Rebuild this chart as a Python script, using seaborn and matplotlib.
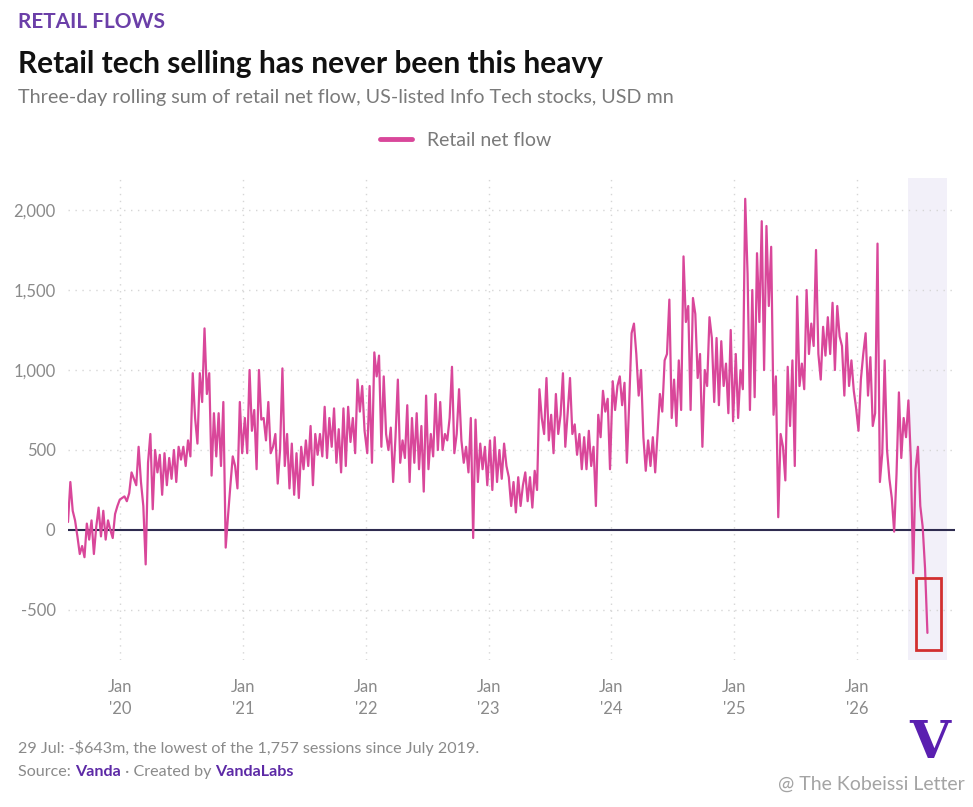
import pandas as pd
import matplotlib.pyplot as plt
import matplotlib.dates as mdates
from matplotlib.patches import Rectangle
from matplotlib.ticker import FuncFormatter
import seaborn as sns

# Weekly readings of the three-day rolling retail net flow (USD mn)
flow_2019 = [50, 300, 120, 60, -40, -150, -100, -170, 40, -60,
             60, -150, 20, 140, -40, 120, -60, 60, 0, -50,
             100, 150, 190]
flow_2020 = [200, 210, 180, 230, 360, 320, 280, 520, 300, 150,
             -215, 420, 600, 130, 500, 360, 470, 220, 480, 280,
             450, 320, 500, 300, 520, 440, 520, 400, 560, 460,
             980, 700, 540, 980, 800, 1260, 850, 980, 340, 730,
             460, 730, 400, 800, -110, 90, 280, 460, 400, 260,
             800, 480]
flow_2021 = [700, 480, 1000, 620, 750, 380, 1000, 690, 700, 560,
             800, 480, 520, 600, 290, 500, 1010, 400, 600, 260,
             540, 220, 480, 200, 520, 380, 560, 400, 650, 280,
             600, 470, 600, 460, 770, 450, 700, 520, 760, 420,
             630, 360, 760, 400, 770, 550, 700, 480, 940, 740,
             900, 620]
flow_2022 = [480, 900, 420, 1110, 960, 1090, 520, 960, 600, 500,
             640, 300, 580, 940, 420, 560, 450, 780, 300, 700,
             420, 730, 380, 650, 240, 840, 380, 600, 460, 850,
             500, 800, 500, 600, 560, 700, 1020, 480, 600, 880,
             560, 420, 520, 360, 700, -50, 690, 300, 540, 380,
             520, 280]
flow_2023 = [560, 250, 580, 300, 500, 320, 540, 400, 330, 150,
             300, 110, 330, 150, 280, 360, 180, 330, 140, 370,
             250, 880, 700, 600, 950, 560, 720, 480, 850, 600,
             720, 980, 520, 730, 950, 600, 660, 470, 600, 380,
             580, 380, 620, 400, 520, 150, 720, 580, 870, 740,
             820, 380]
flow_2024 = [930, 750, 900, 960, 780, 920, 420, 800, 1230, 1290,
             1100, 840, 1000, 580, 370, 560, 400, 580, 360, 600,
             850, 740, 1060, 1100, 1440, 700, 940, 650, 1060, 750,
             1710, 1300, 1400, 750, 1450, 1350, 950, 1100, 520, 1000,
             900, 1330, 1200, 800, 1200, 780, 1180, 900, 1040, 730,
             1250, 680]
flow_2025 = [1100, 700, 1000, 880, 2070, 1600, 750, 1500, 830, 1730,
             1300, 1930, 1000, 1900, 1400, 1770, 720, 960, 80, 600,
             520, 310, 1020, 650, 1060, 400, 1460, 900, 1040, 880,
             1500, 1100, 1290, 1150, 1750, 1100, 940, 1270, 1090, 1330,
             1100, 1420, 1000, 1400, 1210, 1150, 840, 1230, 900, 1060,
             870, 760]
flow_2026 = [620, 940, 1100, 1230, 840, 1080, 650, 730, 1790, 300,
             480, 1060, 500, 320, 200, -10, 350, 860, 450, 700,
             580, 810, 450, -270, 380, 520, 150, 20, -240, -643]

segments = [
    ("2019-07-30", "2019-12-31", flow_2019),
    ("2020-01-07", "2020-12-29", flow_2020),
    ("2021-01-06", "2021-12-28", flow_2021),
    ("2022-01-05", "2022-12-28", flow_2022),
    ("2023-01-05", "2023-12-28", flow_2023),
    ("2024-01-05", "2024-12-28", flow_2024),
    ("2025-01-05", "2025-12-29", flow_2025),
    ("2026-01-05", "2026-07-29", flow_2026),
]

year_ticks = ["2020-01-01", "2021-01-01", "2022-01-01", "2023-01-01",
              "2024-01-01", "2025-01-01", "2026-01-01"]
year_labels = ["Jan\n'20", "Jan\n'21", "Jan\n'22", "Jan\n'23",
               "Jan\n'24", "Jan\n'25", "Jan\n'26"]
y_ticks = [-500, 0, 500, 1000, 1500, 2000]

shade_span = ("2026-06-01", "2026-09-25")
box_span = ("2026-06-24", "2026-09-07")
box_range = (-750, -300)

frames = []
for start, end, vals in segments:
    frames.append(pd.DataFrame({"date": pd.date_range(start, end, periods=len(vals)),
                                "flow": vals}))
df = pd.concat(frames, ignore_index=True)

PINK = "#d9479a"
PURPLE = "#5d2aa6"
GREY = "#8a8a8a"

sns.set_theme(style="white")
plt.rcParams["font.family"] = ["Lato", "DejaVu Sans"]

fig = plt.figure(figsize=(9.73, 8.07), dpi=100)
W, H = 973, 807
ax = fig.add_axes([68 / W, 1 - 660 / H, (955 - 68) / W, (660 - 178) / H])

ax.axvspan(pd.Timestamp(shade_span[0]), pd.Timestamp(shade_span[1]),
           color="#f2f0f9", zorder=0, lw=0)

for yv in y_ticks:
    if yv != 0:
        ax.axhline(yv, color="#d6d6d6", lw=1, ls=(0, (1, 4)), zorder=1)
for t in year_ticks:
    ax.axvline(pd.Timestamp(t), color="#d6d6d6", lw=1, ls=(0, (1, 4)), zorder=1)
ax.axhline(0, color="#2e2b4f", lw=1.5, zorder=2)

sns.lineplot(data=df, x="date", y="flow", color=PINK, lw=1.6, ax=ax,
             label="Retail net flow", zorder=3)

ax.add_patch(Rectangle((mdates.date2num(pd.Timestamp(box_span[0])), box_range[0]),
                       mdates.date2num(pd.Timestamp(box_span[1])) - mdates.date2num(pd.Timestamp(box_span[0])),
                       box_range[1] - box_range[0],
                       fill=False, edgecolor="#d22f2f", lw=2, zorder=4))

ax.set_xlim(pd.Timestamp("2019-07-30"), pd.Timestamp("2026-10-19"))
ax.set_ylim(-812.5, 2200)
ax.set_yticks(y_ticks)
ax.yaxis.set_major_formatter(FuncFormatter(lambda v, p: f"{int(v):,}"))
ax.set_xticks([pd.Timestamp(t) for t in year_ticks])
ax.set_xticklabels(year_labels, linespacing=1.45)
ax.tick_params(axis="y", length=0, pad=9, labelsize=12, labelcolor=GREY)
ax.tick_params(axis="x", length=0, pad=14, labelsize=12, labelcolor=GREY)
ax.set_xlabel("")
ax.set_ylabel("")
for s in ax.spines.values():
    s.set_visible(False)

leg = ax.get_legend()
leg.remove()
fig.legend(handles=leg.legend_handles, labels=["Retail net flow"], loc="center",
           bbox_to_anchor=(466 / W, 1 - 140 / H), frameon=False, fontsize=14,
           handlelength=1.6, handletextpad=0.8, labelcolor="#7a7a7a")
for h in fig.legends[0].legend_handles:
    h.set_linewidth(3.5)

fig.text(18 / W, 1 - 22 / H, "RETAIL FLOWS", fontsize=15, fontweight="bold",
         color="#6b3fa8", va="center", ha="left")
fig.text(18 / W, 1 - 64 / H, "Retail tech selling has never been this heavy",
         fontsize=21.5, fontweight="bold", color="#111111", va="center", ha="left")
fig.text(18 / W, 1 - 97 / H,
         "Three-day rolling sum of retail net flow, US-listed Info Tech stocks, USD mn",
         fontsize=14.2, color="#7a7a7a", va="center", ha="left")

fig.text(18 / W, 1 - 748 / H,
         "29 Jul: -\\$643m, the lowest of the 1,757 sessions since July 2019.",
         fontsize=11.6, color="#8a8a8a", va="center", ha="left")

# source line built from pieces of differing colour
renderer = fig.canvas.get_renderer()
x = 18 / W
for txt, col, wt in [("Source: ", "#8a8a8a", "normal"), ("Vanda", PURPLE, "bold"),
                     (" \u00b7 Created by ", "#8a8a8a", "normal"), ("VandaLabs", PURPLE, "bold")]:
    t = fig.text(x, 1 - 772 / H, txt, fontsize=11.6, color=col, fontweight=wt,
                 va="center", ha="left")
    bb = t.get_window_extent(renderer=renderer)
    x += bb.width / W

fig.text(930 / W, 1 - 744 / H, "V", fontsize=38, fontweight="bold",
         family="DejaVu Serif", color="#5a1fb0", va="center", ha="center")
fig.text(965 / W, 1 - 784 / H, "@ The Kobeissi Letter", fontsize=14,
         color="#9a9a9a", va="center", ha="right", alpha=0.9)

fig.savefig("out.png", dpi=100, facecolor="white")
